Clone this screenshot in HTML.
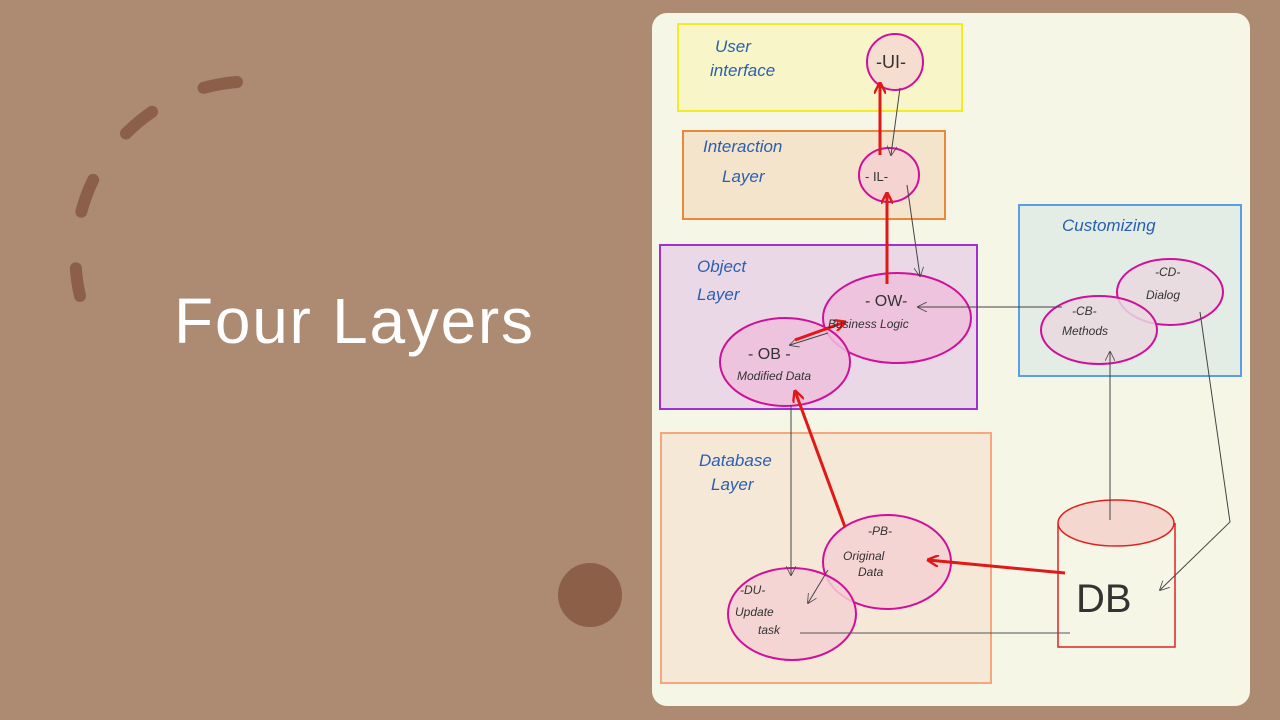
<!DOCTYPE html>
<html><head><meta charset="utf-8"><style>
html,body{margin:0;padding:0;background:#AD8A72;}
svg{display:block}
.h{font-family:"Liberation Sans",sans-serif;font-style:italic;fill:#2a5fb0;font-size:17px}
.k{font-family:"Liberation Sans",sans-serif;font-style:italic;fill:#333;font-size:12px}
</style></head><body>
<svg width="1280" height="720" viewBox="0 0 1280 720" xmlns="http://www.w3.org/2000/svg">
<defs>
<marker id="ar" viewBox="0 0 10 10" refX="9" refY="5" markerUnits="userSpaceOnUse" markerWidth="12" markerHeight="12" orient="auto-start-reverse"><path d="M0 0L10 5L0 10" fill="none" stroke="#e01818" stroke-width="2"/></marker>
<marker id="ag" viewBox="0 0 10 10" refX="9" refY="5" markerWidth="10" markerHeight="10" orient="auto-start-reverse"><path d="M0 0L10 5L0 10" fill="none" stroke="#444" stroke-width="0.8"/></marker>
</defs>
<rect width="1280" height="720" fill="#AD8A72"/>
<path d="M237 82 A175 175 0 0 0 80 296" fill="none" stroke="#8B5F48" stroke-width="12" stroke-linecap="round" stroke-dasharray="34 57"/>
<circle cx="590" cy="595" r="32" fill="#8B5F48"/>
<text x="174" y="343" font-family="Liberation Sans,sans-serif" font-size="64" letter-spacing="2" fill="#fff" textLength="361">Four Layers</text>
<rect x="652" y="13" width="598" height="693" rx="15" fill="#F6F6E6"/>
<rect x="678" y="24" width="284" height="87" fill="#F8F6C8" stroke="#F2EC20" stroke-width="2"/>
<rect x="683" y="131" width="262" height="88" fill="#F4E4CC" stroke="#E8883A" stroke-width="2"/>
<rect x="660" y="245" width="317" height="164" fill="#EAD8E6" stroke="#A030D0" stroke-width="2"/>
<rect x="1019" y="205" width="222" height="171" fill="#E3EDE5" stroke="#5AA0E0" stroke-width="2"/>
<rect x="661" y="433" width="330" height="250" fill="#F5E8D6" stroke="#F4A880" stroke-width="2"/>
<g stroke="#D0109A" stroke-width="2" fill-opacity="0.85">
<ellipse cx="895" cy="62" rx="28" ry="28" fill="#F4D8D0"/>
<ellipse cx="889" cy="175" rx="30" ry="27" fill="#F4D0D0"/>
<ellipse cx="897" cy="318" rx="74" ry="45" fill="#EEC0DC"/>
<ellipse cx="785" cy="362" rx="65" ry="44" fill="#EEC0DC"/>
<ellipse cx="1170" cy="292" rx="53" ry="33" fill="#EAD8E0"/>
<ellipse cx="1099" cy="330" rx="58" ry="34" fill="#EAD8E0"/>
<ellipse cx="887" cy="562" rx="64" ry="47" fill="#F4D0D4"/>
<ellipse cx="792" cy="614" rx="64" ry="46" fill="#F4D0D4"/>
</g>
<path d="M1058 523 V647 H1175 V523" fill="#F6F6E6" stroke="#E02020" stroke-width="1.5"/>
<ellipse cx="1116" cy="523" rx="58" ry="23" fill="#F4D8D0" stroke="#E02020" stroke-width="1.5"/>
<text x="1076" y="612" font-family="Liberation Sans,sans-serif" font-size="40" fill="#333">DB</text>
<g stroke="#444" stroke-width="1" fill="none" marker-end="url(#ag)">
<path d="M900 88 L891 155"/>
<path d="M907 185 L920 276"/>
<path d="M1062 307 L918 307"/>
<path d="M1110 520 L1110 352"/>
<path d="M1200 312 L1230 522 L1160 590"/>
<path d="M791 405 L791 575"/>
<path d="M828 333 L790 345"/>
<path d="M828 570 L808 603"/>
</g>
<path d="M800 633 L1070 633" stroke="#555" stroke-width="1"/>
<g stroke="#e01818" stroke-width="3" fill="none" marker-end="url(#ar)">
<path d="M880 155 L880 83"/>
<path d="M887 284 L887 193"/>
<path d="M845 527 L795 391"/>
<path d="M1065 573 L928 560"/>
<path d="M795 340 L845 322"/>
</g>
<text class="h" x="715" y="52">User</text>
<text class="h" x="710" y="76">interface</text>
<text class="h" x="703" y="152">Interaction</text>
<text class="h" x="722" y="182">Layer</text>
<text class="h" x="697" y="272">Object</text>
<text class="h" x="697" y="300">Layer</text>
<text class="h" x="1062" y="231">Customizing</text>
<text class="h" x="699" y="466">Database</text>
<text class="h" x="711" y="490">Layer</text>
<text x="876" y="68" font-family="Liberation Sans,sans-serif" font-size="18" fill="#333">-UI-</text>
<text x="865" y="181" font-family="Liberation Sans,sans-serif" font-size="13" fill="#333">- IL-</text>
<text x="865" y="306" font-family="Liberation Sans,sans-serif" font-size="16" fill="#333">- OW-</text>
<text class="k" x="828" y="328">Business Logic</text>
<text x="748" y="359" font-family="Liberation Sans,sans-serif" font-size="16" fill="#333">- OB -</text>
<text class="k" x="737" y="380">Modified Data</text>
<text class="k" x="1155" y="276">-CD-</text>
<text class="k" x="1146" y="299">Dialog</text>
<text class="k" x="1072" y="315">-CB-</text>
<text class="k" x="1062" y="335">Methods</text>
<text class="k" x="868" y="535">-PB-</text>
<text class="k" x="843" y="560">Original</text>
<text class="k" x="858" y="576">Data</text>
<text class="k" x="740" y="594">-DU-</text>
<text class="k" x="735" y="616">Update</text>
<text class="k" x="758" y="634">task</text>
</svg>
</body></html>
